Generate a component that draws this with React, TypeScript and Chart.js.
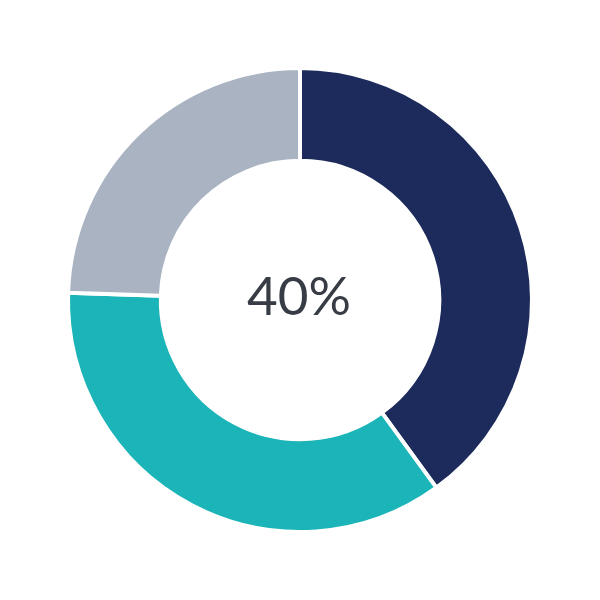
import React, { useEffect, useRef } from "react";
import { Chart, registerables } from "chart.js";

Chart.register(...registerables);

const labels = ["Navy", "Teal", "Grey"];
const values = [40, 35.5, 24.5];
const colors = ["#1c2b5b", "#1bb4b8", "#a9b3c1"];
const centerLabel = "40%";

const centerText = {
  id: "centerText",
  afterDraw(chart: Chart) {
    const { ctx, chartArea } = chart;
    const x = (chartArea.left + chartArea.right) / 2;
    const y = (chartArea.top + chartArea.bottom) / 2;
    ctx.save();
    ctx.font = "400 53px Lato";
    ctx.fillStyle = "#383d45";
    ctx.textAlign = "center";
    ctx.textBaseline = "middle";
    ctx.fillText(centerLabel, x - 1, y - 2);
    ctx.restore();
  },
};

export default function App() {
  const canvasRef = useRef<HTMLCanvasElement | null>(null);
  const chartRef = useRef<Chart | null>(null);

  useEffect(() => {
    document.body.style.margin = "0";
    if (!canvasRef.current) return;
    if (chartRef.current) chartRef.current.destroy();

    chartRef.current = new Chart(canvasRef.current, {
      type: "doughnut",
      data: {
        labels,
        datasets: [
          {
            data: values,
            backgroundColor: colors,
            borderColor: "#ffffff",
            borderWidth: 4,
            hoverOffset: 0,
          },
        ],
      },
      options: {
        animation: false,
        responsive: true,
        maintainAspectRatio: false,
        cutout: "60%",
        layout: { padding: 66 },
        plugins: {
          legend: { display: false },
          tooltip: { enabled: false },
        },
      },
      plugins: [centerText],
    });

    return () => {
      if (chartRef.current) {
        chartRef.current.destroy();
        chartRef.current = null;
      }
    };
  }, []);

  return (
    <div style={{ width: "600px", height: "600px", position: "relative" }}>
      <canvas ref={canvasRef} />
    </div>
  );
}
